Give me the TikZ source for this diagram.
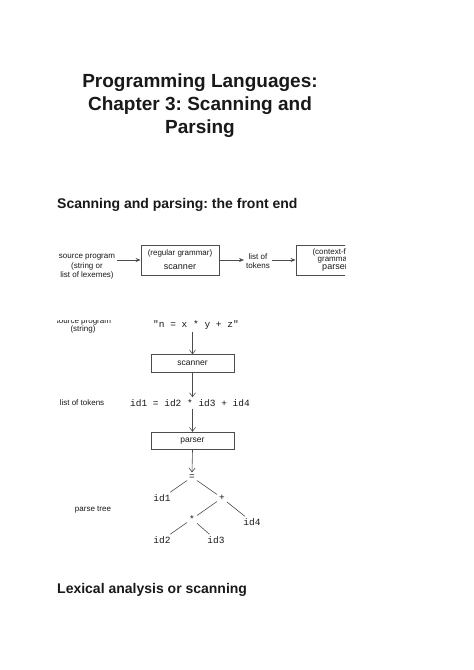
\documentclass[tikz,border=0pt]{standalone}
\usepackage{fontspec}
\setmainfont{Liberation Sans}
\setmonofont{Liberation Mono}
\usetikzlibrary{arrows.meta}
\frenchspacing
\definecolor{ink}{gray}{0.1}
\definecolor{linec}{gray}{0.3}
\tikzset{
  titletext/.style={anchor=base,inner sep=0pt,text=ink,font=\fontsize{19}{22}\selectfont\bfseries},
  headtext/.style={anchor=base west,inner sep=0pt,text=ink,font=\fontsize{14}{16}\selectfont\bfseries},
  lbl/.style={inner sep=2pt,text=ink,align=center,font=\fontsize{8}{9.5}\selectfont},
  bigl/.style={inner sep=1pt,text=ink,align=center,font=\fontsize{9}{10}\selectfont},
  code/.style={inner sep=2pt,text=ink,font=\fontsize{9.5}{11}\selectfont\ttfamily},
  boxa/.style={draw=linec,line width=0.8pt,minimum width=78pt,minimum height=30pt,inner sep=0pt},
  boxb/.style={draw=linec,line width=0.8pt,minimum width=83pt,minimum height=17.5pt,inner sep=0pt,text=ink,font=\fontsize{8.5}{10}\selectfont},
  arra/.style={draw=linec,line width=0.7pt,-{Stealth[length=5pt,width=4pt]}},
  arrb/.style={draw=linec,line width=0.6pt,-{Straight Barb[length=4pt,width=6pt]}},
  edge/.style={draw=linec,line width=0.6pt}
}
\begin{document}
\begin{tikzpicture}[x=1pt,y=-1pt]
\useasboundingbox (0,0) rectangle (474,670);
\fill[white] (0,0) rectangle (474,670);
% title
\node[titletext] (t1) at (200,87) {Programming Languages:};
\node[titletext] (t2) at (200,110) {Chapter 3: Scanning and};
\node[titletext] (t3) at (200,133) {Parsing};
% heading
\node[headtext] (h1) at (57,208) {Scanning and parsing: the front end};
% top diagram
\node[lbl] (src) at (87,267) {source program\\(string or\\list of lexemes)};
\node[boxa] (scan) at (180,260) {};
\node[lbl] (regg) at (180,253) {(regular grammar)};
\node[bigl] (scant) at (180,267) {scanner};
\node[lbl] (lot) at (258,261) {list of\\tokens};
\draw[arra] (src.east |- scan.west) -- (scan.west);
\draw[arra] (scan.east) -- (lot.west |- scan.east);
\begin{scope}
  \clip (0,0) rectangle (345,670);
  \node[boxa] (pbox) at (335,260) {};
  \node[lbl,inner sep=0pt] (cfg1) at (335,252.5) {(context-free};
  \node[lbl,inner sep=0pt] (cfg2) at (335,259.5) {grammar)};
  \node[bigl,inner sep=0pt] (pars) at (335,268) {parser};
  \draw[arra] (lot.east |- pbox.west) -- (pbox.west);
\end{scope}
% middle diagram
\begin{scope}
  \clip (57,320.5) rectangle (474,670);
  \node[lbl,font=\fontsize{8}{8}\selectfont] (src2) at (83,326) {source program\\(string)};
\end{scope}
\node[code] (str) at (196,325) {"n = x * y + z"};
\node[boxb] (scan2) at (192.5,363.5) {scanner};
\node[lbl] (lot2) at (82,403) {list of tokens};
\node[code] (toks) at (190,403) {id1 = id2 * id3 + id4};
\node[boxb] (pars2) at (192.5,441) {parser};
\draw[arrb] (scan2.north |- str.south) -- (scan2.north);
\draw[arrb] (scan2.south) -- (scan2.south |- toks.north);
\draw[arrb] (pars2.north |- toks.south) -- (pars2.north);
% parse tree
\node[code] (eq) at (192,477) {=};
\node[code] (id1) at (162,498) {id1};
\node[code] (plus) at (222,498) {+};
\node[code] (star) at (192,519) {*};
\node[code] (id4) at (252,522) {id4};
\node[code] (id2) at (162,540) {id2};
\node[code] (id3) at (216,540) {id3};
\node[lbl] (ptree) at (93,510) {parse tree};
\draw[arrb] (pars2.south) -- (eq.north);
\draw[edge] (eq) -- (id1);
\draw[edge] (eq) -- (plus);
\draw[edge] (plus) -- (star);
\draw[edge] (plus) -- (id4);
\draw[edge] (star) -- (id2);
\draw[edge] (star) -- (id3);
% heading 2
\node[headtext] (h2) at (57,593) {Lexical analysis or scanning};
\end{tikzpicture}
\end{document}
